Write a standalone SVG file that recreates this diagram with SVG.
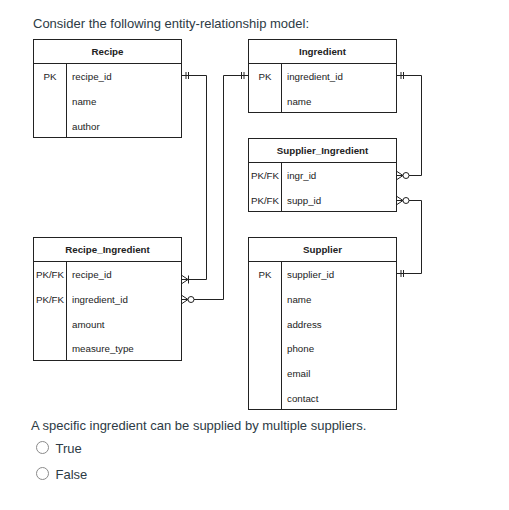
<svg xmlns="http://www.w3.org/2000/svg" width="509" height="510" viewBox="0 0 509 510">
<defs>
<style>
.box{fill:#fff;stroke:#222;stroke-width:1}
.ln{fill:none;stroke:#222;stroke-width:1}
.t{font-family:"Liberation Sans",Arial,sans-serif;font-size:9.75px;fill:#222}
.h{font-weight:bold;text-anchor:middle}
.k{text-anchor:middle}
.q{font-family:"Liberation Sans",Arial,sans-serif;font-size:13px;fill:#2d3b45}
.radio{fill:#fff;stroke:#8a8a8a;stroke-width:1}
</style>
<g id="mandOne"><path class="ln" d="M4,-3.5V3.5M6.5,-3.5V3.5"/></g>
<g id="oneMany"><path class="ln" d="M0,-4L6,0L0,4M0,0H6M6.5,-4V4"/></g>
<g id="zeroMany"><path class="ln" d="M0,-4L6,0L0,4M0,0H6"/><circle cx="9" cy="0" r="3" style="fill:#fff;stroke:#222;stroke-width:1"/></g>
</defs>
<rect width="509" height="510" fill="#fff"/>
<text class="q" x="33" y="28">Consider the following entity-relationship model:</text>

<g id="connectors">
<path class="ln" d="M182,75.5H206.5V279.5H182"/>
<path class="ln" d="M248,75.5H223.5V299.5H182"/>
<path class="ln" d="M397,75.5H421.5V175.5H397"/>
<path class="ln" d="M397,273.5H421.5V200.5H397"/>
<use href="#mandOne" transform="translate(182,75.5)"/>
<use href="#mandOne" transform="translate(248,75.5) scale(-1,1)"/>
<use href="#mandOne" transform="translate(397,75.5)"/>
<use href="#mandOne" transform="translate(397,273.5)"/>
<use href="#oneMany" transform="translate(182,279.5)"/>
<use href="#zeroMany" transform="translate(182,299.5)"/>
<use href="#zeroMany" transform="translate(397,175.5)"/>
<use href="#zeroMany" transform="translate(397,200.5)"/>
</g>

<g id="recipe">
<rect class="box" x="33.5" y="39.5" width="148" height="98"/>
<path class="ln" d="M33.5,63.5H181.5M66.5,63.5V137.5"/>
<text class="t h" x="107.5" y="54.5">Recipe</text>
<text class="t k" x="50" y="79.5">PK</text>
<text class="t" x="72" y="79.5">recipe_id</text>
<text class="t" x="72" y="104.5">name</text>
<text class="t" x="72" y="129.5">author</text>
</g>

<g id="ingredient">
<rect class="box" x="248.5" y="39.5" width="148" height="73"/>
<path class="ln" d="M248.5,63.5H396.5M281.5,63.5V112.5"/>
<text class="t h" x="322.5" y="54.5">Ingredient</text>
<text class="t k" x="265" y="79.5">PK</text>
<text class="t" x="287" y="79.5">ingredient_id</text>
<text class="t" x="287" y="104.5">name</text>
</g>

<g id="supplier_ingredient">
<rect class="box" x="248.5" y="138.5" width="148" height="73"/>
<path class="ln" d="M248.5,162.5H396.5M281.5,162.5V211.5"/>
<text class="t h" x="322.5" y="153.5">Supplier_Ingredient</text>
<text class="t k" x="265" y="178.5">PK/FK</text>
<text class="t" x="287" y="178.5">ingr_id</text>
<text class="t k" x="265" y="203.5">PK/FK</text>
<text class="t" x="287" y="203.5">supp_id</text>
</g>

<g id="recipe_ingredient">
<rect class="box" x="33.5" y="237.5" width="148" height="123"/>
<path class="ln" d="M33.5,261.5H181.5M66.5,261.5V360.5"/>
<text class="t h" x="107.5" y="252.5">Recipe_Ingredient</text>
<text class="t k" x="50" y="277.5">PK/FK</text>
<text class="t" x="72" y="277.5">recipe_id</text>
<text class="t k" x="50" y="302.5">PK/FK</text>
<text class="t" x="72" y="302.5">ingredient_id</text>
<text class="t" x="72" y="327.5">amount</text>
<text class="t" x="72" y="352">measure_type</text>
</g>

<g id="supplier">
<rect class="box" x="248.5" y="237.5" width="148" height="172"/>
<path class="ln" d="M248.5,261.5H396.5M281.5,261.5V409.5"/>
<text class="t h" x="322.5" y="252.5">Supplier</text>
<text class="t k" x="265" y="277.5">PK</text>
<text class="t" x="287" y="277.5">supplier_id</text>
<text class="t" x="287" y="302.5">name</text>
<text class="t" x="287" y="327.5">address</text>
<text class="t" x="287" y="352">phone</text>
<text class="t" x="287" y="377">email</text>
<text class="t" x="287" y="401.5">contact</text>
</g>

<text class="q" x="31" y="429.5">A specific ingredient can be supplied by multiple suppliers.</text>
<circle class="radio" cx="42.5" cy="447.5" r="6"/>
<text class="q" x="55.5" y="452.5">True</text>
<circle class="radio" cx="42.5" cy="473.5" r="6"/>
<text class="q" x="55.5" y="478.5">False</text>
</svg>
